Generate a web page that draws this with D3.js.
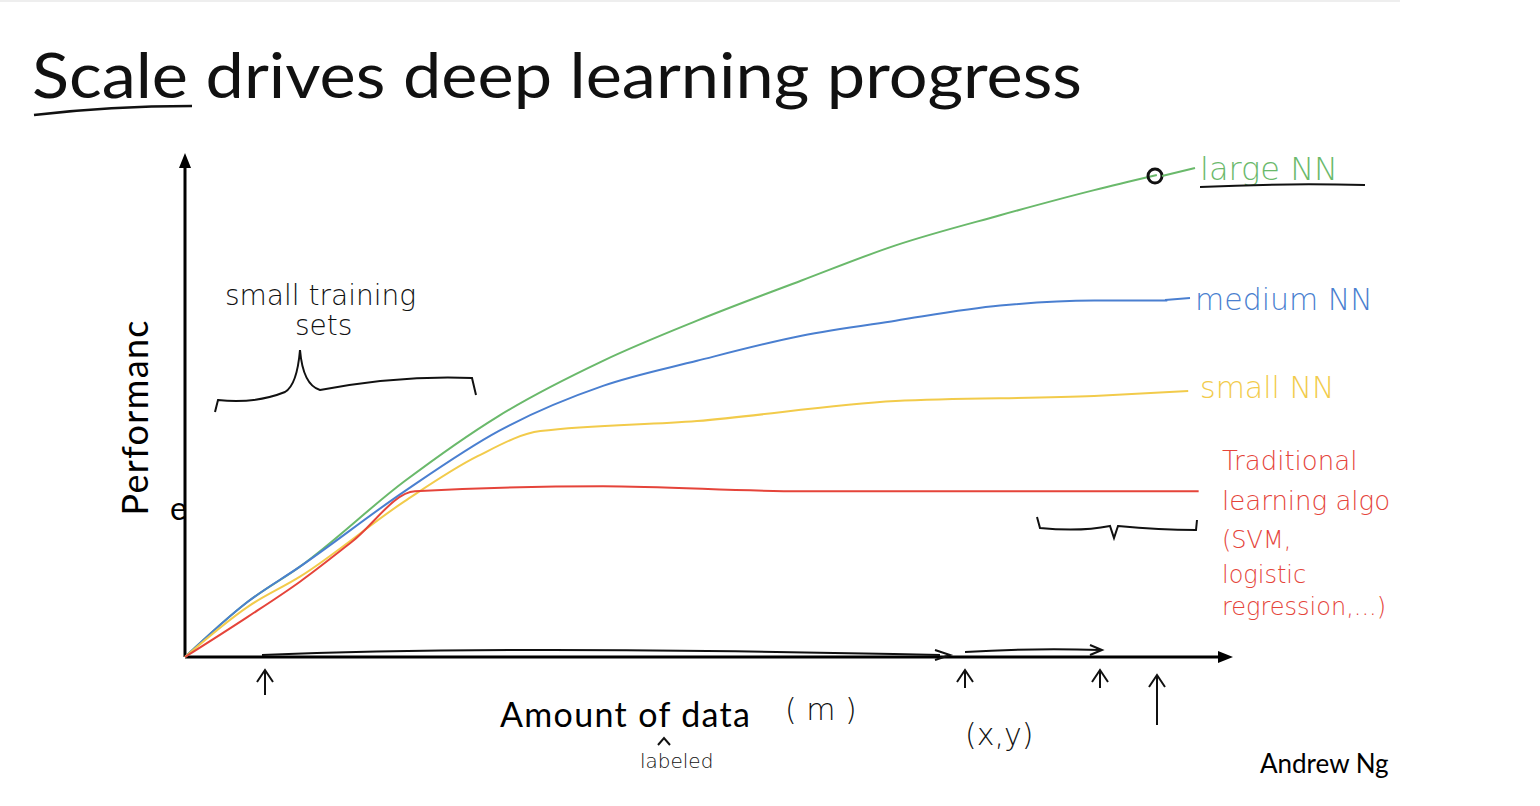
<!DOCTYPE html>
<html><head><meta charset="utf-8">
<script src="https://cdn.jsdelivr.net/npm/d3@7"></script>
<style>body{margin:0;background:#fff}</style>
</head><body>
<svg id="c" width="1540" height="806"></svg>
<script>
// performance curves, x = amount of data, y = performance (0-100)
var green = [[0,0],[6,11],[11,18],[21,35],[30,48],[40,59],[49,67],[59,75],[68,82],[78,88],[87,93],[93,96]]
var blue = [[0,0],[6,11],[11,18],[21,33],[30,45],[40,54],[49,59],[59,64],[68,67],[78,70],[87,71],[94,71]]
var yellow = [[0,0],[6,10],[11,16],[21,31],[28,40],[34,45],[49,47],[68,51],[87,52],[96,53]]
var red = [[0,0],[6,8],[11,15],[16,23],[22,33],[40,34],[59,33],[78,33],[97,33]]
var names = ["large NN","medium NN","small NN"]

var svg = d3.select("#c")
var x = d3.scaleLinear().domain([0,100]).range([185,1230])
var y = d3.scaleLinear().domain([0,100]).range([657,155])
var line = d3.line().x(d => x(d[0])).y(d => y(d[1])).curve(d3.curveMonotoneX)

// title
svg.append("text").attr("x",32).attr("y",98).attr("font-family","Lato, sans-serif")
  .attr("font-size",62).attr("fill","#111").attr("textLength",1050).attr("lengthAdjust","spacingAndGlyphs")
  .text("Scale drives deep learning progress")
svg.append("path").attr("d","M34,115 Q110,106 192,106").attr("stroke","#111").attr("stroke-width",2.5).attr("fill","none")
svg.append("rect").attr("x",0).attr("y",0).attr("width",1400).attr("height",2).attr("fill","#eee")

// axes
svg.append("line").attr("x1",x(0)).attr("y1",y(0)).attr("x2",x(0)).attr("y2",162).attr("stroke","#000").attr("stroke-width",3)
svg.append("line").attr("x1",x(0)).attr("y1",y(0)).attr("x2",1222).attr("y2",y(0)).attr("stroke","#000").attr("stroke-width",3)
svg.append("path").attr("d","M179,168 L185,153 L191,168 Z")
svg.append("path").attr("d","M1218,651 L1233,657 L1218,663 Z")

// curves
var cols = ["#6ab96b","#4a7fd0","#f2cb4b","#e5443a"]
;[green,blue,yellow,red].forEach((s,i) => {
  svg.append("path").attr("d",line(s)).attr("stroke",cols[i]).attr("stroke-width",2).attr("fill","none")
})

// axis labels
svg.append("text").attr("transform","translate(148,418) rotate(-90)").attr("text-anchor","middle")
  .attr("font-family","Lato, sans-serif").attr("font-size",36).attr("textLength",195).text("Performanc")
svg.append("text").attr("x",170).attr("y",520).attr("font-family","Lato, sans-serif").attr("font-size",32).text("e")
svg.append("text").attr("x",500).attr("y",727).attr("font-family","Lato, sans-serif").attr("font-size",34)
  .attr("textLength",250).text("Amount of data")
svg.append("text").attr("x",1260).attr("y",773).attr("font-family","Lato, sans-serif").attr("font-size",26).text("Andrew Ng")

// handwritten-ish notes
var hand = "DejaVu Sans, sans-serif"
function note(t,px,py,c,fs){ svg.append("text").attr("x",px).attr("y",py).attr("font-family",hand)
  .attr("font-size",fs||30).attr("font-weight",200).attr("fill",c).text(t) }
note(names[0],1200,180,cols[0],32)
note(names[1],1195,310,cols[1],30)
note(names[2],1200,398,cols[2],30)
;["Traditional","learning algo","(SVM,","logistic","regression,...)"].forEach((t,i) => note(t,1222,[470,510,548,583,615][i],cols[3],i<2?26:24))
note("small  training",225,305,"#111",28)
note("sets",295,335,"#111",28)
note("( m )",785,720,"#111",30)
note("(x,y)",965,745,"#111",30)
note("labeled",640,768,"#111",20)
svg.append("path").attr("d","M1200,187 Q1280,183 1365,185").attr("stroke","#111").attr("stroke-width",2).attr("fill","none")
svg.append("circle").attr("cx",1155).attr("cy",176).attr("r",7).attr("fill","none").attr("stroke","#111").attr("stroke-width",3)
svg.append("line").attr("x1",1162).attr("y1",176).attr("x2",1195).attr("y2",168).attr("stroke",cols[0]).attr("stroke-width",2)
svg.append("line").attr("x1",1165).attr("y1",300).attr("x2",1190).attr("y2",298).attr("stroke",cols[1]).attr("stroke-width",2)

// braces and arrows
var pen = g => g.attr("stroke","#111").attr("stroke-width",2).attr("fill","none")
svg.append("path").attr("d","M215,412 L218,400 Q255,404 285,392 Q297,385 300,350 Q303,385 320,390 Q400,375 472,378 L476,395").call(pen)
svg.append("path").attr("d","M1037,517 L1040,528 Q1080,532 1110,526 L1114,538 L1118,526 Q1160,530 1196,530 L1197,520").call(pen)
svg.append("path").attr("d","M262,655 Q500,645 940,655 M935,650 L950,655 L935,660 M965,652 Q1030,648 1100,650 M1090,645 L1102,650 L1090,655").call(pen)
svg.append("path").attr("d","M658,745 L664,738 L670,745").call(pen)
;[[265,670,695],[965,670,688],[1100,670,688],[1157,675,725]].forEach(a => {
  svg.append("path").attr("d","M"+a[0]+","+a[2]+" L"+a[0]+","+a[1]+" M"+(a[0]-8)+","+(a[1]+12)+" L"+a[0]+","+a[1]+" L"+(a[0]+8)+","+(a[1]+12)).call(pen)
})
</script>
</body></html>
